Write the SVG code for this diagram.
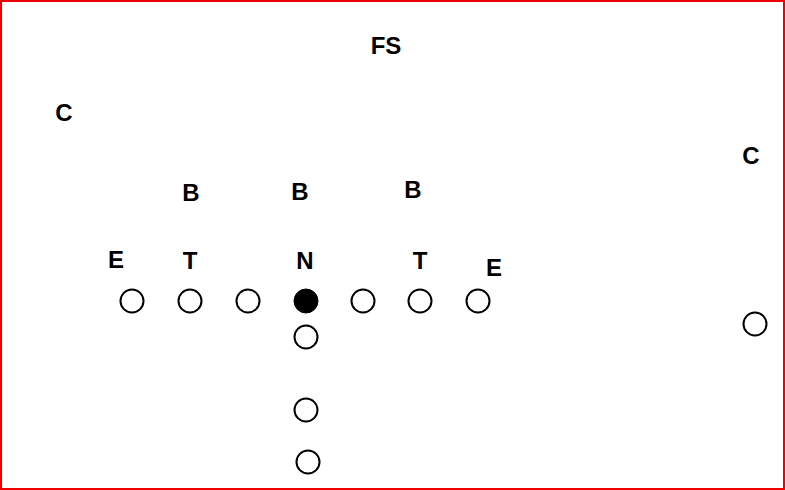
<svg xmlns="http://www.w3.org/2000/svg" width="785" height="490" viewBox="0 0 785 490">
<style>
.l{font-family:"Liberation Sans",Arial,sans-serif;font-weight:bold;font-size:24px;fill:#000;text-anchor:middle}
.p{fill:#fff;stroke:#000;stroke-width:2}
.c{fill:#000;stroke:#000;stroke-width:1}
</style>
<rect x="0" y="0" width="785" height="490" fill="#fff"/>
<rect x="1" y="1" width="783" height="488" fill="none" stroke="#e00" stroke-width="2"/>
<g id="labels">
<text class="l" x="386" y="54">FS</text>
<text class="l" x="64" y="121">C</text>
<text class="l" x="751" y="164">C</text>
<text class="l" x="191" y="201">B</text>
<text class="l" x="300" y="200">B</text>
<text class="l" x="413" y="198">B</text>
<text class="l" x="116" y="268">E</text>
<text class="l" x="190" y="269">T</text>
<text class="l" x="305" y="269">N</text>
<text class="l" x="420" y="269">T</text>
<text class="l" x="494" y="276">E</text>
</g>
<g id="players">
<circle class="p" cx="132" cy="301" r="11.5"/>
<circle class="p" cx="190" cy="301" r="11.5"/>
<circle class="p" cx="248" cy="301" r="11.5"/>
<circle class="c" cx="306" cy="301" r="12"/>
<circle class="p" cx="363" cy="301" r="11.5"/>
<circle class="p" cx="420" cy="301" r="11.5"/>
<circle class="p" cx="478" cy="301" r="11.5"/>
<circle class="p" cx="306" cy="337" r="11.5"/>
<circle class="p" cx="306" cy="410" r="11.5"/>
<circle class="p" cx="308" cy="462" r="11.5"/>
<circle class="p" cx="755" cy="324" r="11.5"/>
</g>
</svg>
